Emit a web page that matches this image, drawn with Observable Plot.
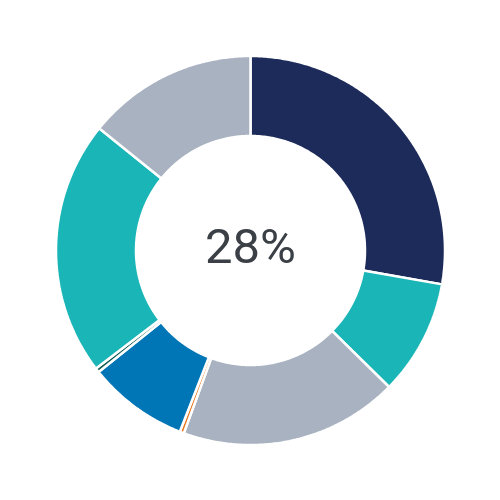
<!DOCTYPE html>
<html>
<head>
<meta charset="utf-8">
<script src="https://cdn.jsdelivr.net/npm/d3@7"></script>
<script src="https://cdn.jsdelivr.net/npm/@observablehq/plot@0.6"></script>
<style>
  html, body { margin: 0; padding: 0; background: #fff; }
</style>
</head>
<body>
<div id="chart"></div>
<script>
// Data, clockwise from 12 o'clock
const categories = ["Segment 1", "Segment 2", "Segment 3", "Segment 4", "Segment 5", "Segment 6", "Segment 7", "Segment 8"];
const values = [27.8, 9.6, 18.2, 0.35, 8.35, 0.35, 21.2, 14.2];
const colors = ["#1c2b5a", "#1ab5b7", "#a8b2c1", "#e87722", "#0076b6", "#0b5a4f", "#1ab5b7", "#a8b2c1"];
const centerLabel = "28%";

// Build the ring geometry from the values
const outerR = 194.5, innerR = 114.5;
const total = d3.sum(values);
const pts = [];
let acc = 0;
categories.forEach((c, i) => {
  const a0 = acc / total * 2 * Math.PI;
  acc += values[i];
  const a1 = acc / total * 2 * Math.PI;
  const n = Math.max(2, Math.ceil((a1 - a0) / (Math.PI / 360)));
  const ring = [];
  for (let k = 0; k <= n; k++) {
    const a = a0 + (a1 - a0) * k / n;
    ring.push({cat: c, x: Math.sin(a) * outerR, y: Math.cos(a) * outerR});
  }
  for (let k = n; k >= 0; k--) {
    const a = a0 + (a1 - a0) * k / n;
    ring.push({cat: c, x: Math.sin(a) * innerR, y: Math.cos(a) * innerR});
  }
  ring.push({...ring[0]});
  pts.push(...ring);
});

const chart = Plot.plot({
  width: 500,
  height: 500,
  margin: 0,
  x: {domain: [-250, 250], axis: null},
  y: {domain: [-250, 250], axis: null},
  color: {domain: categories, range: colors},
  style: {fontFamily: "Roboto, 'Open Sans', sans-serif", background: "#fff"},
  marks: [
    Plot.line(pts, {x: "x", y: "y", z: "cat", fill: "cat", stroke: "#fff", strokeWidth: 2.5, strokeLinejoin: "miter", curve: "linear"}),
    Plot.text([centerLabel], {x: () => 0, y: () => 0, text: d => d, fontSize: 49, fill: "#3b3f46", textAnchor: "middle", dy: -3})
  ]
});
document.getElementById("chart").appendChild(chart);
</script>
</body>
</html>
